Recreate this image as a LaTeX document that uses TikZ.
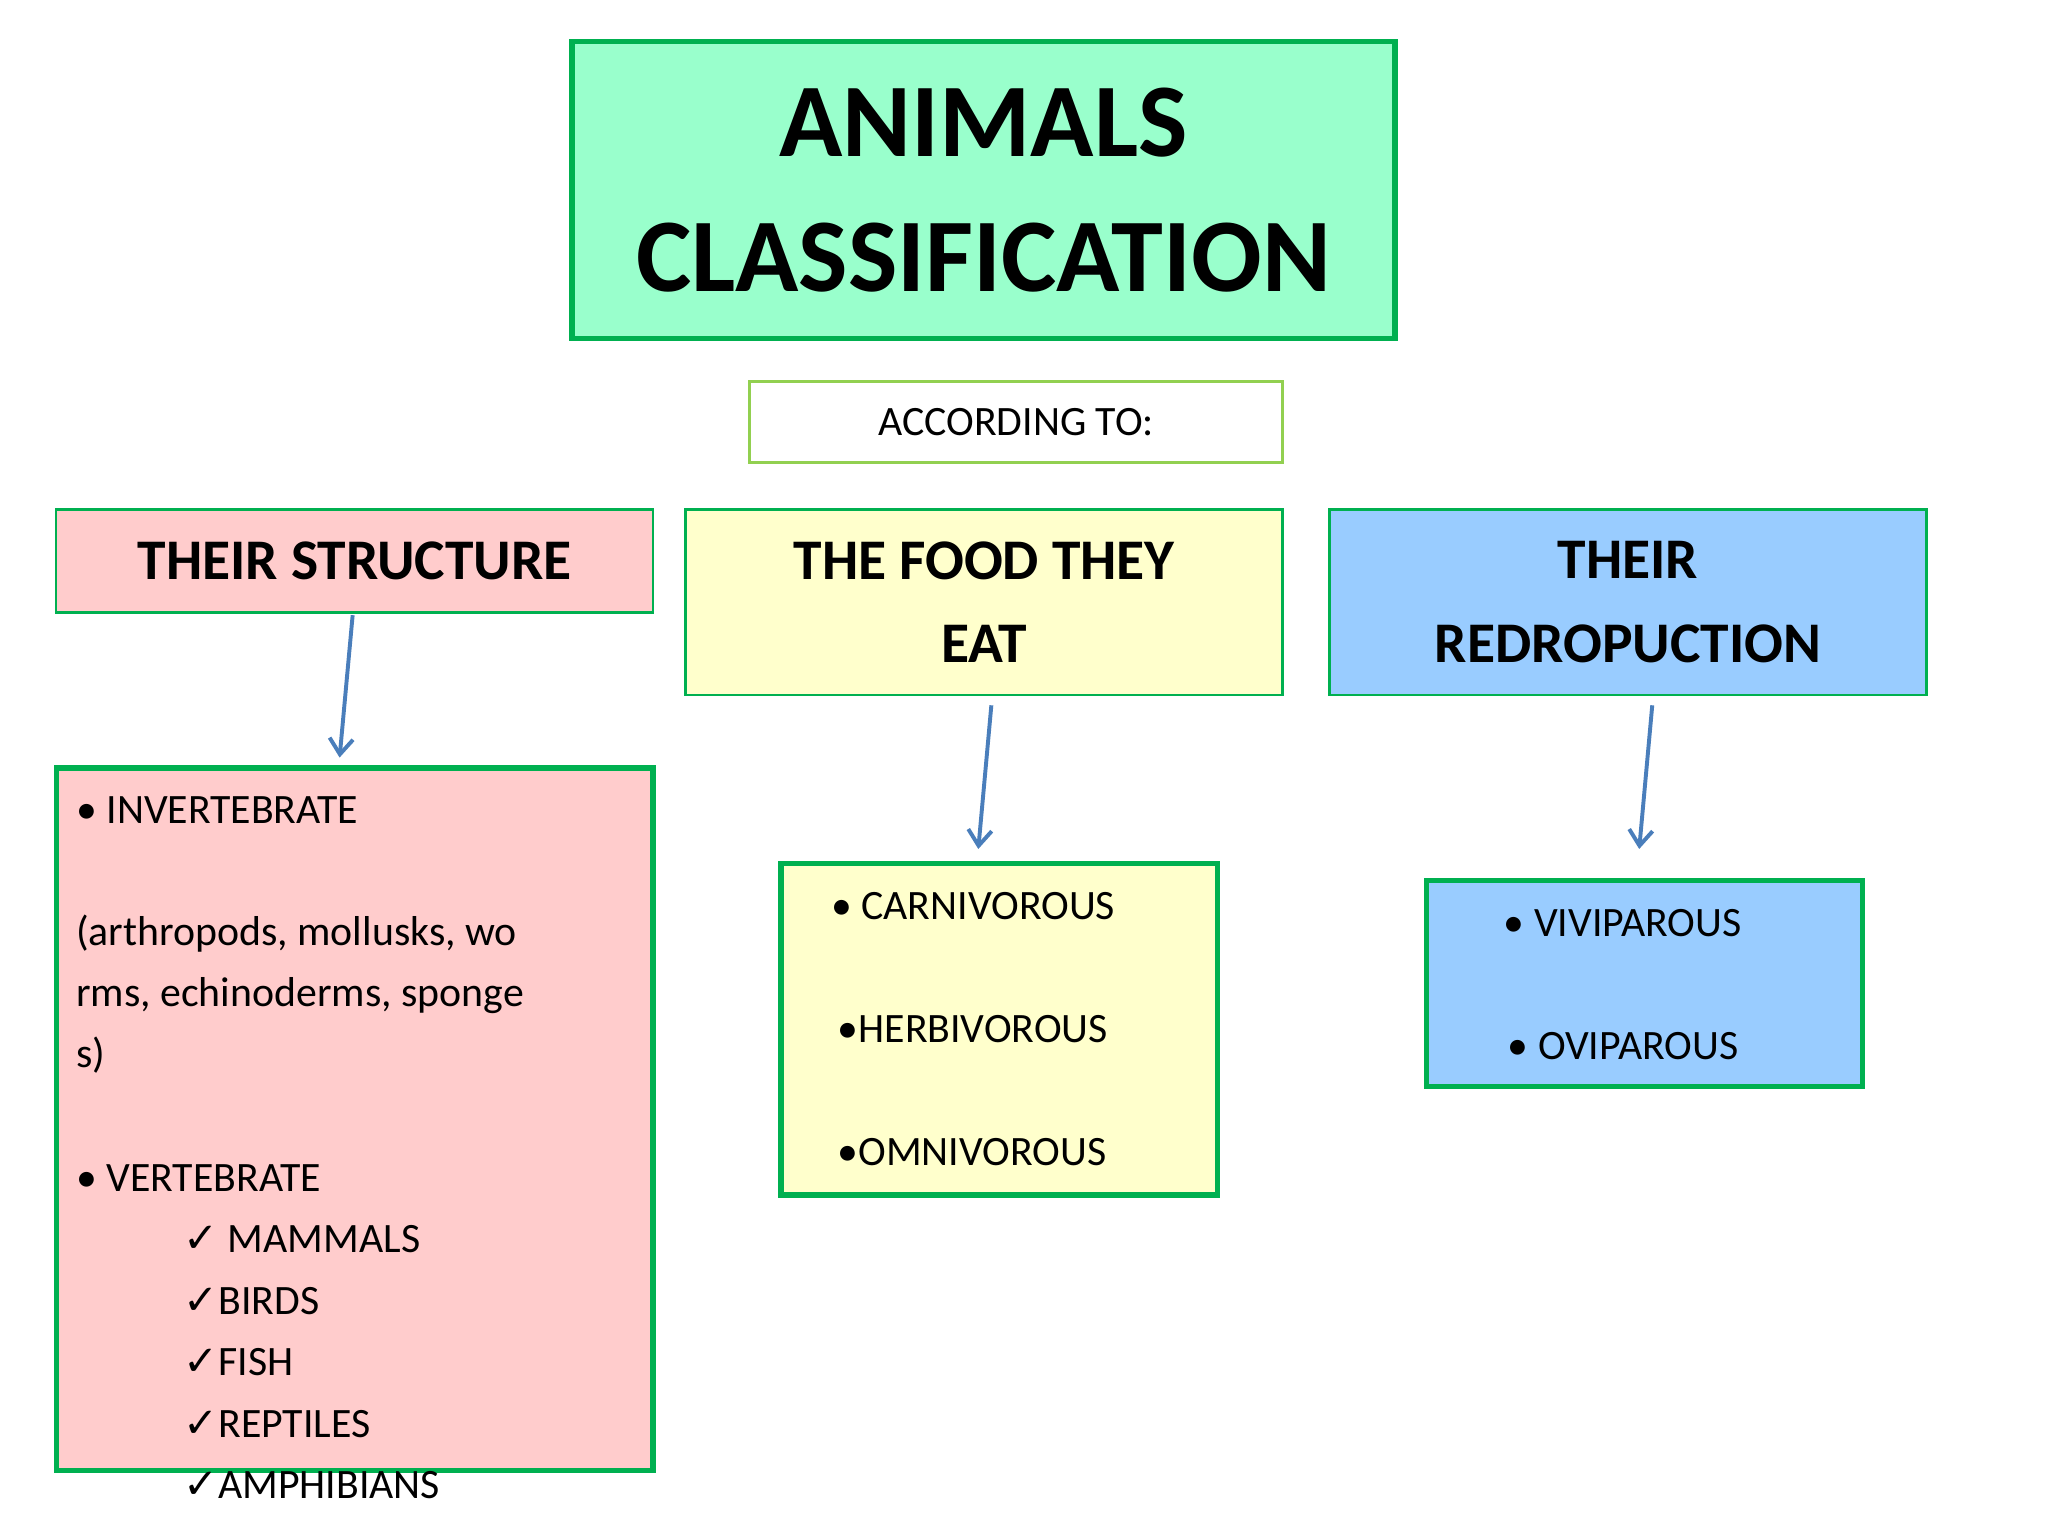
\documentclass[tikz,border=0pt]{standalone}
\usepackage{fontspec}
\setmainfont{Carlito}
\newfontfamily\djv{DejaVu Sans}
\usetikzlibrary{arrows.meta}
\definecolor{gborder}{HTML}{00B050}
\definecolor{lgreen}{HTML}{92D050}
\definecolor{mint}{HTML}{99FFCC}
\definecolor{pinkf}{HTML}{FFCCCC}
\definecolor{yelf}{HTML}{FFFFCC}
\definecolor{bluef}{HTML}{99CCFF}
\definecolor{arr}{HTML}{4A7EBB}
\tikzset{
 hdr/.style={draw=gborder,line width=1pt,align=center,font=\fontsize{22}{32}\selectfont\bfseries},
 lst/.style={draw=gborder,line width=2pt},
 txt/.style={anchor=west,inner sep=0pt,font=\fontsize{16}{19}\selectfont},
 conn/.style={draw=arr,line width=1.5pt,-{Straight Barb[length=6pt,width=9pt]}}
}
\begin{document}
\begin{tikzpicture}[x=0.5pt,y=-0.5pt]
\useasboundingbox[fill=white] (0,0) rectangle (1568,1176);
\node[draw=gborder,line width=2pt,fill=mint,minimum width=315pt,minimum height=113.5pt,align=center,font=\fontsize{40}{52}\selectfont\bfseries] (title) at (753,145.5) {ANIMALS\\CLASSIFICATION};
\node[draw=lgreen,line width=1pt,fill=white,minimum width=204pt,minimum height=31pt,font=\fontsize{16}{19}\selectfont] (acc) at (778,323) {ACCORDING TO:};
\node[hdr,fill=pinkf,minimum width=228.5pt,minimum height=39.5pt] (h1) at (271.5,429.5) {THEIR STRUCTURE};
\node[hdr,fill=yelf,minimum width=228.5pt,minimum height=71pt] (h2) at (753.5,461) {THE FOOD THEY\\EAT};
\node[hdr,fill=bluef,minimum width=228.5pt,minimum height=71pt] (h3) at (1246.5,461) {THEIR\\REDROPUCTION};
\node[lst,fill=pinkf,minimum width=228.5pt,minimum height=269pt] (b1) at (271.5,857) {};
\node[lst,fill=yelf,minimum width=167pt,minimum height=127pt] (b2) at (765,788) {};
\node[lst,fill=bluef,minimum width=167pt,minimum height=79pt] (b3) at (1259,753) {};
\coordinate (a1s) at (270,471); \coordinate (a1e) at (260,580);
\coordinate (a2s) at (759,540); \coordinate (a2e) at (749,650);
\coordinate (a3s) at (1265,540); \coordinate (a3e) at (1255,650);
\draw[conn] (a1s) -- (a1e);
\draw[conn] (a2s) -- (a2e);
\draw[conn] (a3s) -- (a3e);
\node[txt] (t1) at (58,620) {• INVERTEBRATE};
\node[txt] (t2) at (58,715) {(arthropods, mollusks, wo};
\node[txt] (t3) at (58,762) {rms, echinoderms, sponge};
\node[txt] (t4) at (58,808) {s)};
\node[txt] (t5) at (58,902) {• VERTEBRATE};
\node[txt] (t6) at (140,949) {{\djv ✓} MAMMALS};
\node[txt] (t7) at (140,996) {{\djv ✓}BIRDS};
\node[txt] (t8) at (140,1043) {{\djv ✓}FISH};
\node[txt] (t9) at (140,1090) {{\djv ✓}REPTILES};
\node[txt] (t10) at (140,1137) {{\djv ✓}AMPHIBIANS};
\node[txt] (c1) at (636,694) {• CARNIVOROUS};
\node[txt] (c2) at (641,788) {•HERBIVOROUS};
\node[txt] (c3) at (641,882) {•OMNIVOROUS};
\node[txt] (r1) at (1151,707) {• VIVIPAROUS};
\node[txt] (r2) at (1154,801) {• OVIPAROUS};
\end{tikzpicture}
\end{document}
